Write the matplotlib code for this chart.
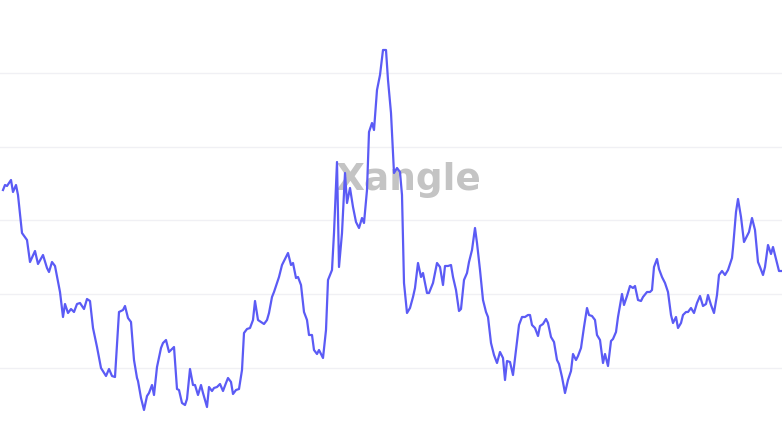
import matplotlib
matplotlib.use("Agg")
import matplotlib.pyplot as plt
import numpy as np

# time index (arbitrary units) and value
t = [3, 5, 7, 11, 13, 16, 18, 22, 27, 30, 35, 38, 43, 47, 49, 52, 55, 60, 63, 65, 68, 71, 74, 77, 80, 84, 87, 90, 93, 97,
     101, 106, 109, 112, 115, 119, 123, 125, 128, 131,
     134, 137, 138, 141, 144, 147, 149, 152, 154, 157, 161, 163, 166, 169, 172, 174, 177, 179, 182, 185, 187, 190, 193, 195,
     198, 201, 203, 207, 209, 212, 214, 217, 220, 223, 226, 228, 231, 233, 236, 239, 242, 244,
     247, 250, 253, 255, 258, 261, 264, 267, 269, 272, 274, 277, 279, 282, 285, 288, 291, 293, 296, 298, 301, 304, 307, 309,
     312, 314, 317, 319, 321, 323, 326, 328, 332, 334, 337, 339, 342, 345, 347, 350, 353, 356, 359, 362, 364, 367,
     369, 372, 374, 377, 380, 383, 386, 388, 391, 394, 397, 400, 402, 404, 407,
     410, 413, 415, 418, 421, 423, 427, 429, 433, 435, 437, 440, 443, 445, 448, 451, 453, 456, 459, 461, 464, 467, 469, 472,
     475, 477, 480, 483, 486, 488, 491, 494, 497, 500, 503, 505, 507, 510, 513, 516, 519,
     522, 525, 528, 530, 532, 535, 538, 540, 543, 546, 548, 551, 554, 557, 559, 562, 565, 568, 571, 573, 576, 578, 581, 584,
     587, 589, 592, 595, 597, 600, 603, 605, 608, 611, 613, 616, 618, 622, 624, 627, 630, 633, 635, 638,
     641, 643, 647, 650, 652, 654, 657, 659, 662, 665, 668, 671, 673, 676, 678, 681, 683, 686, 688, 691, 694, 697, 700, 703,
     706, 708, 711, 714, 717, 719, 722, 725, 728, 732, 733, 736, 738, 741, 744, 747, 749, 752, 755, 758, 760, 763, 765, 768,
     771, 773, 777, 779, 782]

values = [250, 255, 254, 260, 248, 255, 245, 207, 200, 178, 189, 176, 185, 172, 168, 178, 174, 148, 123, 136, 127, 131, 128, 136, 137, 131, 141, 139, 112, 93,
          72, 64, 71, 64, 63, 128, 130, 134, 122, 118,
          80, 62, 59, 42, 30, 44, 47, 55, 45, 73, 92, 97, 100, 88, 91, 93, 51, 50, 37, 35, 41, 71, 55, 55,
          45, 55, 47, 33, 53, 49, 52, 53, 56, 49, 57, 62, 58, 46, 50, 51, 70, 107,
          111, 112, 120, 139, 120, 118, 116, 120, 127, 143, 148, 157, 163, 175, 181, 187, 175, 177, 162, 163, 155, 128, 120, 105,
          105, 90, 86, 90, 86, 82, 110, 160, 170, 207, 278, 173, 207, 267, 237, 252, 233, 218, 212, 222, 217, 250,
          308, 317, 310, 350, 365, 390, 390, 360, 327, 267, 272, 268, 245, 157, 127,
          132, 143, 152, 177, 163, 167, 147, 147, 157, 167, 177, 173, 155, 174, 174, 175, 163, 150, 129, 131, 160, 167, 178, 190,
          212, 197, 170, 140, 128, 123, 97, 85, 77, 88, 82, 60, 79, 78, 65, 90, 115,
          123, 123, 125, 125, 115, 112, 104, 114, 116, 121, 117, 103, 98, 80, 76, 63, 47, 60, 69, 86, 80, 84, 92, 113,
          132, 125, 124, 120, 105, 100, 77, 86, 74, 99, 101, 108, 123, 146, 135, 144, 154, 152, 154, 140,
          139, 143, 148, 148, 150, 173, 181, 171, 163, 157, 148, 125, 117, 123, 112, 117, 125, 128, 128, 132, 127, 137, 144, 134,
          136, 145, 135, 127, 145, 165, 169, 165, 170, 182, 192, 228, 241, 223, 198, 204, 208, 222, 210, 178, 173, 165, 173, 195,
          186, 193, 177, 169, 169]

grid_levels = [72, 146, 220, 293, 367]

fig = plt.figure(figsize=(7.82, 4.40), dpi=100)
ax = fig.add_axes([0, 0, 1, 1])
ax.set_xlim(0, 782)
ax.set_ylim(0, 440)
for s in ax.spines.values():
    s.set_visible(False)
ax.set_xticks([])
ax.set_yticks(grid_levels)
ax.tick_params(left=False, labelleft=False)
ax.grid(axis="y", color="#f0f0f4", linewidth=1.0)
ax.set_axisbelow(True)

ax.text(408, 260, "Xangle", ha="center", va="center", fontsize=27, fontweight="bold",
        family="DejaVu Sans", color="#c4c4c4", zorder=1)

ax.plot(t, values, color="#5b5bf5", linewidth=1.6, zorder=3, solid_joinstyle="round")

fig.savefig("out.png", dpi=100)
